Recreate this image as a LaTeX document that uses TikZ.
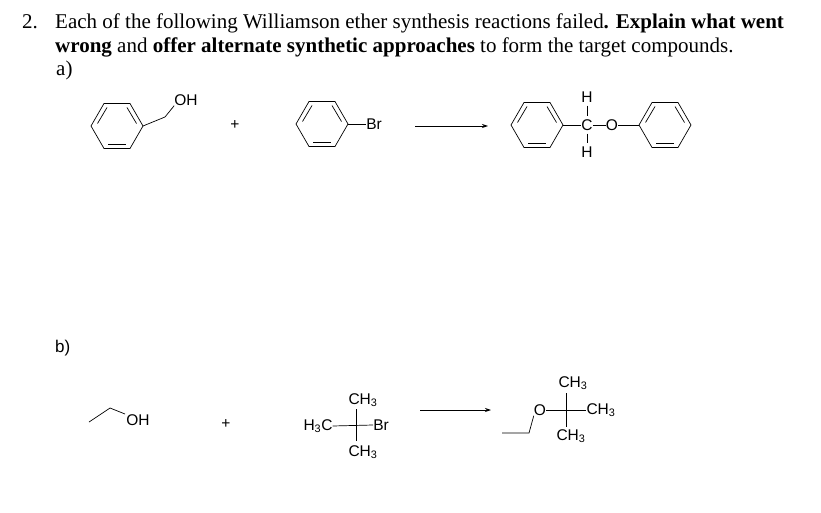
\documentclass[tikz,border=0pt]{standalone}
\usepackage{fontspec}
\usetikzlibrary{arrows.meta}
\setmainfont{Liberation Serif}
\newfontfamily\chem{Liberation Sans}
\begin{document}
\begin{tikzpicture}[x=1pt,y=-1pt,
  lab/.style={font=\chem\fontsize{15.5}{17}\selectfont,inner sep=0pt},
  bd/.style={line width=0.7pt},
  arr/.style={line width=0.8pt,-{Stealth[length=6pt,width=4pt]}},
  ttl/.style={font=\fontsize{21}{25}\selectfont,anchor=base west,inner sep=0pt}]
\useasboundingbox (0,0) rectangle (821,513);
\newcommand{\benz}[2]{%
  \draw[bd] (#1-26,#2)--(#1-13,#2-22.5)--(#1+13,#2-22.5)--(#1+26,#2)--(#1+13,#2+22.5)--(#1-13,#2+22.5)--cycle;
  \draw[bd] (#1-19.5,#2-2.5)--(#1-10,#2-18.5);
  \draw[bd] (#1+10,#2-18.5)--(#1+19.5,#2-2.5);
  \draw[bd] (#1-9,#2+18.5)--(#1+9,#2+18.5);}
\node[ttl] (t0) at (22,29) {2.};
\node[ttl] (t1) at (55,29) {Each of the following Williamson ether synthesis reactions failed\textbf{. Explain what went}};
\node[ttl] (t2) at (55,53) {\textbf{wrong} and \textbf{offer alternate synthetic approaches} to form the target compounds.};
\node[ttl] (ta) at (56,76) {a)};
\node[lab,anchor=base west,font=\chem\fontsize{17}{19}\selectfont] (tb) at (55,352) {b)};
% a
\benz{117}{126}
\node[lab] (oh1) at (186,100) {OH};
\draw[bd] (143,126)--(165,117)--(oh1.south west);
\node[lab] (p1) at (235,125) {+};
\benz{322}{124}
\node[lab] (br1) at (374,124) {Br};
\draw[bd] (348,124)--(br1.west);
\coordinate (a1s) at (415,126); \coordinate (a1e) at (488,126);
\draw[arr] (a1s)--(a1e);
\benz{537}{125}
\node[lab] (c1) at (587,125) {C};
\node[lab] (h1) at (587,97) {H};
\node[lab] (h2) at (587,152) {H};
\node[lab] (o1) at (612,125) {O};
\draw[bd] (563,125)--(c1.west);
\draw[bd] ([yshift=-3pt]h1.south)--([yshift=3pt]c1.north);
\draw[bd] ([yshift=-3pt]c1.south)--([yshift=3pt]h2.north);
\draw[bd] (c1.east)--(o1.west);
\benz{665}{125}
\draw[bd] (o1.east)--(639,125);
% b
\node[lab] (oh2) at (138,420) {OH};
\draw[bd] (89,422)--(110,408)--(125,414);
\node[lab] (p2) at (226,424) {+};
\node[lab] (cm1) at (363,400) {CH\textsubscript{3}};
\node[lab] (cm2) at (363,452) {CH\textsubscript{3}};
\node[lab] (hc) at (318,426) {H\textsubscript{3}C};
\node[lab] (br2) at (381,425) {Br};
\draw[bd] (hc.east)--(br2.west);
\draw[bd] (356,409)--(356,441);
\coordinate (a2s) at (420,410); \coordinate (a2e) at (491,410);
\draw[arr] (a2s)--(a2e);
\node[lab] (o2) at (540,410) {O};
\draw[bd] (502,433)--(529,433)--(o2.south west);
\node[lab] (cm3) at (573,383) {CH\textsubscript{3}};
\node[lab] (cm4) at (601,410) {CH\textsubscript{3}};
\node[lab] (cm5) at (571,436) {CH\textsubscript{3}};
\draw[bd] (o2.east)--(cm4.west);
\draw[bd] (566,393)--(566,427);
\end{tikzpicture}
\end{document}
